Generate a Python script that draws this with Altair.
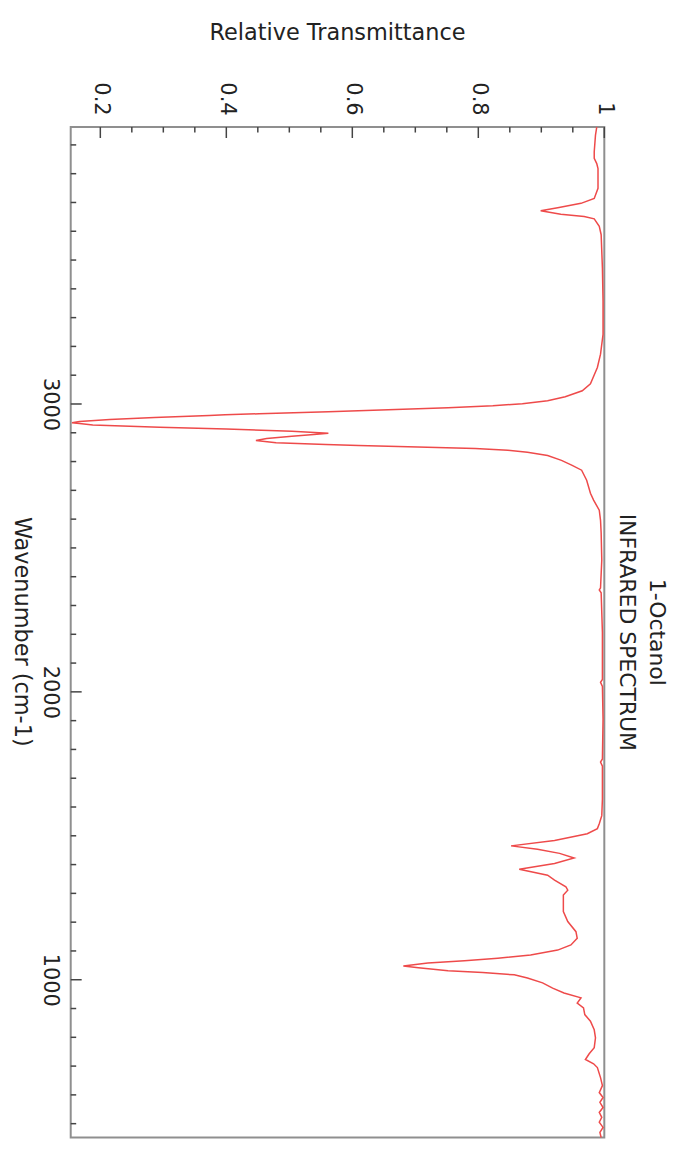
import altair as alt
import pandas as pd

# Wavenumber (cm-1), read top to bottom of the rotated plot
wavenumber = [3962, 3934, 3876, 3853, 3835, 3818, 3749, 3714, 3697, 3682, 3671, 3659, 3651, 3643,
              3617, 3588, 3472, 3357, 3242, 3173, 3127, 3070, 3046, 3025, 3011, 3001, 2994, 2987,
              2980, 2973, 2966, 2963, 2960, 2953, 2946, 2939, 2935, 2932, 2927, 2919, 2913, 2905,
              2898, 2894, 2888, 2880, 2873, 2865, 2859, 2856, 2851, 2845, 2839, 2832, 2821, 2804,
              2787, 2770, 2735, 2690, 2666, 2631, 2596, 2552, 2458, 2361, 2354, 2344, 2206, 2043,
              2033, 2019, 1905, 1767, 1756, 1742, 1628, 1570, 1542, 1525, 1507, 1484, 1465, 1453,
              1439, 1423, 1404, 1384, 1363, 1346, 1323, 1311, 1294, 1237, 1202, 1167, 1144, 1121,
              1103, 1086, 1075, 1066, 1058, 1048, 1042, 1031, 1025, 1017, 1006, 989, 971, 954,
              937, 919, 902, 879, 856, 826, 798, 764, 743, 723, 708, 695, 660, 632, 608, 591,
              574, 556, 539, 522, 505, 487, 470, 452]

# Relative transmittance
transmittance = [0.988, 0.986, 0.984, 0.984, 0.988, 0.990, 0.990, 0.984, 0.963, 0.926, 0.899, 0.931,
                 0.968, 0.984, 0.992, 0.995, 0.997, 0.998, 0.998, 0.994, 0.989, 0.978, 0.965, 0.938,
                 0.910, 0.870, 0.823, 0.752, 0.657, 0.562, 0.452, 0.398, 0.373, 0.286, 0.215, 0.167,
                 0.155, 0.167, 0.188, 0.294, 0.400, 0.504, 0.562, 0.539, 0.504, 0.464, 0.447, 0.479,
                 0.558, 0.610, 0.704, 0.795, 0.847, 0.878, 0.910, 0.932, 0.949, 0.964, 0.972, 0.978,
                 0.983, 0.992, 0.994, 0.995, 0.996, 0.994, 0.992, 0.995, 0.997, 0.997, 0.994, 0.997,
                 0.998, 0.997, 0.994, 0.997, 0.997, 0.996, 0.992, 0.989, 0.973, 0.921, 0.852, 0.894,
                 0.929, 0.952, 0.921, 0.865, 0.910, 0.921, 0.939, 0.942, 0.935, 0.935, 0.942, 0.955,
                 0.957, 0.947, 0.926, 0.883, 0.831, 0.778, 0.720, 0.681, 0.705, 0.752, 0.807, 0.857,
                 0.878, 0.902, 0.918, 0.936, 0.963, 0.957, 0.967, 0.969, 0.978, 0.984, 0.986, 0.984,
                 0.976, 0.970, 0.983, 0.989, 0.994, 0.997, 0.992, 0.998, 0.993, 0.998, 0.992, 0.996,
                 0.992, 0.998, 0.993, 0.995]

t_labels = [0.2, 0.4, 0.6, 0.8, 1.0]
t_minor = [0.25, 0.3, 0.35, 0.45, 0.5, 0.55, 0.65, 0.7, 0.75, 0.85, 0.9, 0.95]
w_labels = [1000, 2000, 3000]
w_minor = [w for w in range(500, 4000, 100) if w not in w_labels]

FONT = "DejaVu Sans"
TEXT = "#222222"
TICK = "#444444"

spec = pd.DataFrame({"w": wavenumber, "t": transmittance})

xs = alt.Scale(domain=[0.153, 1.0], nice=False, zero=False)
ys = alt.Scale(domain=[452, 3962], nice=False, zero=False)

x_axis = alt.Axis(
    orient="top", values=t_labels, format="~g", labelAngle=90, labelAlign="right",
    labelBaseline="middle", labelPadding=12, labelFlush=False, labelOverlap=False,
    labelFont=FONT, labelFontSize=21, labelColor=TEXT,
    ticks=False, tickSize=0, domain=False, grid=False,
    title="Relative Transmittance", titleFont=FONT, titleFontSize=22.5,
    titleFontWeight="normal", titleColor=TEXT, titleAngle=0, titleAlign="center",
    titleBaseline="alphabetic", titleX=267.5, titleY=-88)

y_axis = alt.Axis(
    orient="left", values=w_labels, format="d", labelAngle=90, labelAlign="center",
    labelBaseline="top", labelPadding=10, labelFlush=False, labelOverlap=False,
    labelFont=FONT, labelFontSize=21, labelColor=TEXT,
    ticks=False, tickSize=0, domain=False, grid=False,
    title="Wavenumber (cm-1)", titleFont=FONT, titleFontSize=22.5,
    titleFontWeight="normal", titleColor=TEXT, titleAngle=90, titleAlign="center",
    titleBaseline="alphabetic", titleX=-56, titleY=506.5)

line = alt.Chart(spec).mark_line(color="#ee4a4a", strokeWidth=1.5).encode(
    x=alt.X("t:Q", scale=xs, axis=x_axis),
    y=alt.Y("w:Q", scale=ys, axis=y_axis),
    order=alt.Order("w:Q", sort="descending"),
)

top_major = alt.Chart(pd.DataFrame({"t": t_labels})).mark_rule(color=TICK, strokeWidth=1.5).encode(
    x=alt.X("t:Q", scale=xs, axis=x_axis), y=alt.value(0), y2=alt.value(11))
top_minor = alt.Chart(pd.DataFrame({"t": t_minor})).mark_rule(color=TICK, strokeWidth=1.5).encode(
    x=alt.X("t:Q", scale=xs, axis=x_axis), y=alt.value(0), y2=alt.value(5.5))
left_major = alt.Chart(pd.DataFrame({"w": w_labels})).mark_rule(color=TICK, strokeWidth=1.5).encode(
    y=alt.Y("w:Q", scale=ys, axis=y_axis), x=alt.value(0), x2=alt.value(11))
left_minor = alt.Chart(pd.DataFrame({"w": w_minor})).mark_rule(color=TICK, strokeWidth=1.5).encode(
    y=alt.Y("w:Q", scale=ys, axis=y_axis), x=alt.value(0), x2=alt.value(5.5))

chart = alt.layer(line, top_major, top_minor, left_major, left_minor).properties(
    width=536, height=1015,
    title=alt.TitleParams(["1-Octanol", "INFRARED SPECTRUM"], orient="right", anchor="middle",
                          font=FONT, fontSize=22, fontWeight="normal", color=TEXT,
                          offset=0, lineHeight=30),
    autosize=alt.AutoSizeParams(type="none"),
    padding={"left": 63, "top": 117, "right": 68, "bottom": 15},
).configure(background="white").configure_view(stroke="#8f8f8f", strokeWidth=2)

chart.save("out.html", embed_options={"renderer": "svg", "actions": False})
